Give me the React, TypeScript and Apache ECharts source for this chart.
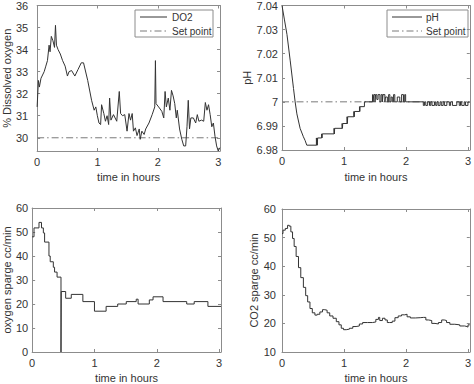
import React, { useEffect, useRef } from "react";
import * as echarts from "echarts";

// ---- data ----
const hourTicks = [0, 1, 2, 3];

const doTicks = [30, 31, 32, 33, 34, 35, 36];
const doHours = [0, 0.021, 0.037, 0.064, 0.117, 0.144, 0.171, 0.198, 0.214, 0.235, 0.262, 0.288, 0.304, 0.32, 0.347, 0.384, 0.422, 0.464, 0.502, 0.529, 0.571, 0.625, 0.678, 0.731, 0.769, 0.838, 0.902, 0.945, 0.972, 0.998, 1.025, 1.052, 1.068, 1.105, 1.132, 1.159, 1.185, 1.201, 1.223, 1.265, 1.319, 1.361, 1.383, 1.415, 1.452, 1.49, 1.522, 1.548, 1.575, 1.596, 1.628, 1.655, 1.692, 1.708, 1.735, 1.773, 1.799, 1.853, 1.906, 1.949, 1.96, 1.97, 2.013, 2.066, 2.098, 2.12, 2.141, 2.173, 2.2, 2.226, 2.253, 2.28, 2.306, 2.322, 2.36, 2.397, 2.429, 2.461, 2.483, 2.504, 2.525, 2.547, 2.589, 2.627, 2.654, 2.68, 2.723, 2.76, 2.787, 2.814, 2.84, 2.867, 2.894, 2.92, 2.947, 2.974, 3.001, 3.027];
const doPercent = [31.4, 32.6, 32.3, 32.7, 33.0, 33.25, 33.5, 34.2, 33.9, 34.6, 34.4, 34.1, 35.1, 34.2, 34.0, 33.8, 33.5, 33.25, 32.8, 33.0, 33.05, 32.8, 33.1, 33.4, 33.4, 32.6, 31.7, 31.25, 31.4, 31.0, 30.67, 30.6, 31.5, 31.1, 30.75, 31.0, 30.6, 31.8, 30.8, 31.05, 30.75, 32.1, 31.1, 31.0, 31.05, 30.3, 31.1, 30.8, 31.1, 30.3, 30.45, 30.1, 30.4, 29.93, 30.3, 30.15, 30.4, 30.67, 31.05, 31.4, 33.5, 31.55, 31.4, 31.2, 30.9, 32.1, 31.4, 31.8, 31.25, 32.15, 31.9, 31.55, 30.9, 31.25, 30.4, 29.93, 29.63, 29.63, 30.5, 31.7, 30.4, 30.9, 30.9, 30.67, 31.05, 30.75, 30.8, 30.75, 31.6, 31.25, 31.5, 31.05, 30.5, 30.67, 30.07, 29.63, 29.4, 29.55];
const doSetPoint = 30;

const phTicks = [6.98, 6.99, 7, 7.01, 7.02, 7.03, 7.04];
const phDecayHours = [0, 0.04, 0.08, 0.133, 0.186, 0.212, 0.24, 0.292, 0.345, 0.372, 0.4];
const phDecayValues = [7.04, 7.034, 7.028, 7.017, 7.0055, 7.0, 6.995, 6.989, 6.9855, 6.984, 6.982];
const phStepHours = [0.4, 0.555, 0.56, 0.565, 0.57, 0.575, 0.64, 0.645, 0.65, 0.84, 0.845, 0.85, 0.97, 0.975, 0.98, 1.05, 1.055, 1.06, 1.16, 1.165, 1.17, 1.25, 1.255, 1.26, 1.33,
  1.46, 1.47, 1.48, 1.5, 1.51, 1.53, 1.55, 1.58, 1.6, 1.62, 1.63, 1.66, 1.67, 1.7, 1.72, 1.74, 1.76, 1.78, 1.8, 1.82, 1.86, 1.9, 1.93, 1.96, 1.98, 1.995,
  2.28, 2.3, 2.32, 2.35, 2.38, 2.4, 2.42, 2.46, 2.48, 2.5, 2.52, 2.55, 2.57, 2.6, 2.62, 2.66, 2.7, 2.72, 2.75, 2.82, 2.86, 2.88, 2.9, 2.94, 2.96, 3.0, 3.03];
const phStepValues = [6.982, 6.985, 6.982, 6.985, 6.982, 6.985, 6.9867, 6.985, 6.9867, 6.989, 6.9867, 6.989, 6.991, 6.989, 6.991, 6.9938, 6.991, 6.9938, 6.996, 6.9938, 6.996, 6.998, 6.996, 6.998, 7.0,
  7.003, 7.0, 7.003, 7.0, 7.003, 7.001, 7.003, 7.0, 7.003, 7.0, 7.003, 7.0, 7.002, 7.0, 7.003, 7.0, 7.002, 7.0, 7.003, 7.0, 7.002, 7.0, 7.003, 7.0, 7.003, 7.0,
  6.9985, 7.0, 6.9985, 7.0, 6.9985, 7.0, 6.9985, 7.0, 6.9985, 7.0, 6.9985, 7.0, 6.9985, 7.0, 6.9985, 7.0, 6.9985, 7.0, 6.9985, 7.0, 6.9985, 7.0, 6.9985, 7.0, 6.9985, 7.0, 7.0];
const phSetPoint = 7;

const o2Ticks = [0, 10, 20, 30, 40, 50, 60];
const o2Hours = [0, 0.03, 0.11, 0.15, 0.18, 0.2, 0.27, 0.29, 0.34, 0.36, 0.4, 0.463, 0.467, 0.538, 0.628, 0.814, 1.0, 1.187, 1.373, 1.51, 1.67, 1.7, 1.88, 1.94, 2.1, 2.48, 2.6, 2.82, 3.03];
const o2Flow = [48.0, 51.7, 54.0, 51.7, 49.6, 45.8, 40.0, 37.6, 35.3, 33.3, 31.2, 0, 25.2, 22.4, 24.0, 21.0, 17.0, 19.0, 20.0, 21.0, 22.0, 20.0, 21.7, 23.0, 21.0, 20.0, 21.0, 19.0, 19.0];

const co2Ticks = [10, 20, 30, 40, 50, 60];
const co2Hours = [0, 0.016, 0.053, 0.09, 0.117, 0.143, 0.17, 0.196, 0.228, 0.266, 0.303, 0.345, 0.382, 0.414, 0.451, 0.489, 0.531, 0.568, 0.611, 0.653, 0.69, 0.728, 0.77, 0.823, 0.876, 0.919, 0.956, 0.993, 1.036, 1.089, 1.142, 1.195, 1.248, 1.301, 1.381, 1.46, 1.514, 1.556, 1.577, 1.62, 1.662, 1.699, 1.737, 1.779, 1.822, 1.875, 1.928, 1.981, 2.018, 2.071, 2.151, 2.23, 2.284, 2.321, 2.363, 2.416, 2.469, 2.523, 2.576, 2.618, 2.655, 2.708, 2.788, 2.868, 2.947, 2.985, 3.001, 3.03];
const co2Flow = [51.4, 52.6, 53.2, 54.3, 54.0, 52.0, 49.7, 46.9, 43.4, 39.5, 36.0, 32.6, 29.7, 27.5, 25.2, 23.7, 22.9, 23.2, 24.0, 24.8, 24.6, 23.7, 22.6, 21.8, 20.6, 19.5, 18.3, 17.8, 18.0, 18.3, 18.9, 19.1, 19.8, 20.3, 20.3, 20.5, 21.4, 22.1, 21.0, 21.8, 21.2, 20.3, 20.3, 20.8, 22.0, 22.6, 23.0, 23.2, 22.3, 21.9, 22.0, 22.1, 22.1, 21.2, 21.0, 20.0, 19.8, 20.3, 21.2, 21.0, 20.3, 19.7, 19.5, 19.1, 18.9, 18.7, 19.5, 19.5];

// ---- styling ----
const FONT = "Liberation Sans, Arial, sans-serif";
const AXIS_COLOR = "#8c8c8c";
const TEXT_COLOR = "#333333";
const LINE_COLOR = "#333333";
const SET_COLOR = "#7a7a7a";
const DASH_DOT = [7, 3, 1.5, 3];
const X_MAX = 3.03;

const zip = (xs: number[], ys: number[]) => xs.map((x, i) => [x, ys[i]]);

type PanelDef = {
  grid: { left: number; top: number; width: number; height: number };
  yMin: number;
  yMax: number;
  yTicks: number[];
  yName: string;
  yNameGap: number;
  yLabelMargin: number;
  xNameGap: number;
};

const panels: PanelDef[] = [
  { grid: { left: 31, top: 3, width: 189, height: 148 }, yMin: 29.4, yMax: 36, yTicks: doTicks, yName: "% Dissolved oxygen", yNameGap: 18, yLabelMargin: 9, xNameGap: 20 },
  { grid: { left: 282, top: 5, width: 190, height: 145 }, yMin: 6.98, yMax: 7.04, yTicks: phTicks, yName: "pH", yNameGap: 28, yLabelMargin: 4, xNameGap: 21 },
  { grid: { left: 30, top: 208, width: 191, height: 147 }, yMin: 0, yMax: 60, yTicks: o2Ticks, yName: "oxygen sparge cc/min", yNameGap: 20, yLabelMargin: 4, xNameGap: 20 },
  { grid: { left: 282, top: 209, width: 190, height: 146 }, yMin: 10, yMax: 60, yTicks: co2Ticks, yName: "CO2 sparge cc/min", yNameGap: 19, yLabelMargin: 6, xNameGap: 20 },
];

function buildOption() {
  const grid = panels.map((p) => ({ ...p.grid, containLabel: false }));
  const xAxis: any[] = [];
  const yAxis: any[] = [];
  const lineStyle = { color: AXIS_COLOR, width: 1 };
  panels.forEach((p, i) => {
    xAxis.push({
      type: "value", gridIndex: i, min: 0, max: X_MAX, position: "bottom",
      axisLine: { show: true, onZero: false, lineStyle },
      axisTick: { show: true, inside: true, length: 3, customValues: hourTicks, lineStyle },
      axisLabel: { customValues: hourTicks, margin: 5, color: TEXT_COLOR, fontSize: 11, fontFamily: FONT },
      splitLine: { show: false },
      name: "time in hours", nameLocation: "middle", nameGap: p.xNameGap,
      nameTextStyle: { color: TEXT_COLOR, fontSize: 11, fontFamily: FONT },
    });
    xAxis.push({
      type: "value", gridIndex: i, min: 0, max: X_MAX, position: "top",
      axisLine: { show: true, onZero: false, lineStyle },
      axisTick: { show: true, inside: true, length: 3, customValues: hourTicks, lineStyle },
      axisLabel: { show: false }, splitLine: { show: false },
    });
    yAxis.push({
      type: "value", gridIndex: i, min: p.yMin, max: p.yMax, position: "left",
      axisLine: { show: true, onZero: false, lineStyle },
      axisTick: { show: true, inside: true, length: 3, customValues: p.yTicks, lineStyle },
      axisLabel: { customValues: p.yTicks, margin: p.yLabelMargin, color: TEXT_COLOR, fontSize: 11, fontFamily: FONT },
      splitLine: { show: false },
      name: p.yName, nameLocation: "middle", nameGap: p.yNameGap, nameRotate: 90,
      nameTextStyle: { color: TEXT_COLOR, fontSize: 11, fontFamily: FONT },
    });
    yAxis.push({
      type: "value", gridIndex: i, min: p.yMin, max: p.yMax, position: "right",
      axisLine: { show: true, onZero: false, lineStyle },
      axisTick: { show: true, inside: true, length: 3, customValues: p.yTicks, lineStyle },
      axisLabel: { show: false }, splitLine: { show: false },
    });
  });

  const base = { type: "line", showSymbol: false, symbol: "none", silent: true };
  const series: any[] = [
    { ...base, name: "Set point", xAxisIndex: 0, yAxisIndex: 0, data: [[0, doSetPoint], [X_MAX, doSetPoint]], lineStyle: { color: SET_COLOR, width: 1, type: DASH_DOT } },
    { ...base, name: "DO2", xAxisIndex: 0, yAxisIndex: 0, data: zip(doHours, doPercent), lineStyle: { color: LINE_COLOR, width: 1 } },
    { ...base, name: "Set point", xAxisIndex: 2, yAxisIndex: 2, data: [[0, phSetPoint], [X_MAX, phSetPoint]], lineStyle: { color: SET_COLOR, width: 1, type: DASH_DOT } },
    { ...base, name: "pH", xAxisIndex: 2, yAxisIndex: 2, data: zip(phDecayHours, phDecayValues), lineStyle: { color: LINE_COLOR, width: 1 } },
    { ...base, name: "pH", xAxisIndex: 2, yAxisIndex: 2, step: "end", data: zip(phStepHours, phStepValues), lineStyle: { color: LINE_COLOR, width: 1 } },
    { ...base, name: "oxygen", xAxisIndex: 4, yAxisIndex: 4, step: "end", data: zip(o2Hours, o2Flow), lineStyle: { color: LINE_COLOR, width: 1 } },
    { ...base, name: "CO2", xAxisIndex: 6, yAxisIndex: 6, step: "end", data: zip(co2Hours, co2Flow), lineStyle: { color: LINE_COLOR, width: 1 } },
  ];

  const legend = (x: number, y: number, w: number, lineX0: number, lineX1: number, textX: number, label: string) => ({
    type: "group",
    children: [
      { type: "rect", shape: { x, y, width: w, height: 27 }, style: { fill: "#ffffff", stroke: AXIS_COLOR, lineWidth: 1 } },
      { type: "line", shape: { x1: lineX0, y1: y + 7, x2: lineX1, y2: y + 7 }, style: { stroke: LINE_COLOR, lineWidth: 1 } },
      { type: "line", shape: { x1: lineX0, y1: y + 21, x2: lineX1, y2: y + 21 }, style: { stroke: SET_COLOR, lineWidth: 1, lineDash: DASH_DOT } },
      { type: "text", x: textX, y: y + 7, style: { text: label, fill: TEXT_COLOR, font: `10px ${FONT}`, verticalAlign: "middle", align: "left" } },
      { type: "text", x: textX, y: y + 21, style: { text: "Set point", fill: TEXT_COLOR, font: `10px ${FONT}`, verticalAlign: "middle", align: "left" } },
    ],
  });

  return {
    animation: false,
    backgroundColor: "#ffffff",
    grid,
    xAxis,
    yAxis,
    series,
    graphic: [
      legend(135, 10, 78, 140, 167, 172, "DO2"),
      legend(387, 10, 81, 392, 422, 426, "pH"),
    ],
  };
}

export default function App() {
  const ref = useRef<HTMLDivElement>(null);
  useEffect(() => {
    if (!ref.current) return;
    const chart = echarts.init(ref.current, undefined, { renderer: "svg" });
    chart.setOption(buildOption() as any);
    return () => chart.dispose();
  }, []);
  return <div ref={ref} style={{ position: "fixed", left: 0, top: 0, width: 474, height: 384 }} />;
}
